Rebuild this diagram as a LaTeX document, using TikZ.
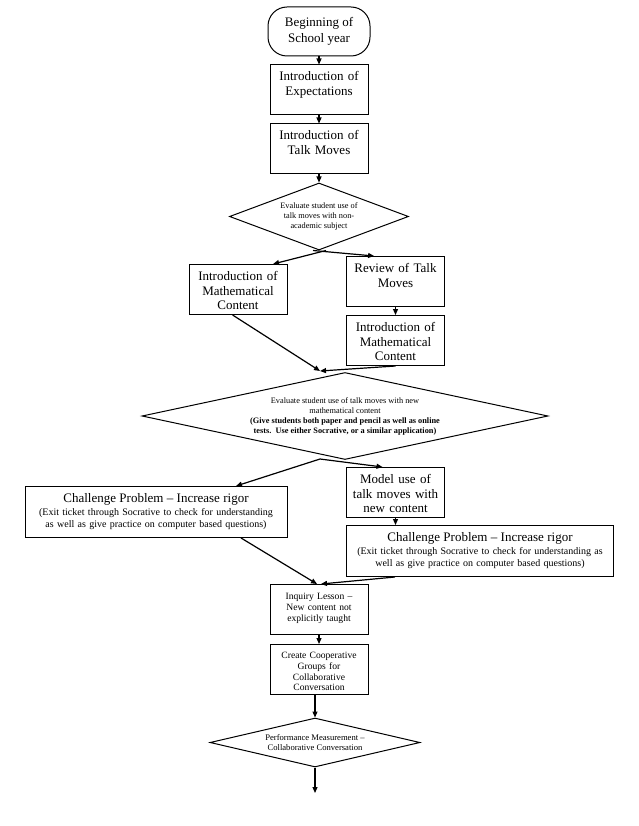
\documentclass[tikz,border=0pt]{standalone}
\usepackage{fontspec}
\setmainfont{Liberation Serif}
\usepackage{tikz}
\usetikzlibrary{positioning,calc,shapes.geometric,arrows.meta}

\tikzset{
  stepbox/.style={draw, line width=1pt, align=center, anchor=north,
    inner xsep=3pt, inner ysep=5pt, text width=92pt,
    text height=11pt, text depth=29pt, font=\fontsize{13}{14.7}\selectfont},
  smallbox/.style={stepbox, font=\fontsize{9.6}{10.8}\selectfont,
    text height=9pt, text depth=31pt},
  widebox/.style={stepbox, text width=#1, font=\fontsize{10}{11.5}\selectfont,
    text depth=30pt},
  decision/.style={diamond, draw, line width=1pt, align=center, inner sep=0pt,
    font=\fontsize{8.3}{10}\selectfont},
  flow/.style={-{Triangle[length=6pt,width=5pt]}, line width=1.2pt},
}

\begin{document}
\begin{tikzpicture}[x=1pt, y=-1pt]
    \useasboundingbox (0,0) rectangle (638,826);

    % top of the chart
    \node[draw, line width=1pt, rounded corners=19pt, align=center,
      minimum width=102pt, minimum height=49pt,
      font=\fontsize{13}{15.5}\selectfont] (start) at (319,31.5)
      {Beginning of\\School year};
    \node[stepbox, below=8pt of start] (expect) {Introduction of\\Expectations};
    \node[stepbox, below=8pt of expect] (talk) {Introduction of\\Talk Moves};
    \node[decision, below=8pt of talk, minimum width=179pt, minimum height=67pt,
      shape aspect=2.67] (eval1)
      {Evaluate student use of\\talk moves with non-\\academic subject};

    % two branches
    \node[stepbox] (mathL) at (238,264) {Introduction of\\Mathematical\\Content};
    \node[stepbox] (review) at (395.5,256) {Review of Talk\\Moves};
    \node[stepbox, below=8pt of review] (mathR) {Introduction of\\Mathematical\\Content};

    \node[decision, minimum width=406pt, minimum height=87pt, shape aspect=4.67]
      (eval2) at (345,416)
      {Evaluate student use of talk moves with new\\mathematical content\\
       \textbf{(Give students both paper and pencil as well as online}\\
       \textbf{tests.\ \ Use either Socrative, or a similar application)}};
    \coordinate (join2) at (320,371);
    \coordinate (split2) at (320,459);

    \node[widebox=256pt] (chalL) at (156,486)
      {{\fontsize{13}{15}\selectfont Challenge Problem -- Increase rigor}\\[1.5pt]
       (Exit ticket through Socrative to check for understanding\\
       as well as give practice on computer based questions)};
    \node[stepbox] (model) at (395.5,467) {Model use of\\talk moves with\\new content};
    \node[widebox=261pt, anchor=north west] (chalR) at ([yshift=-7pt]model.south west)
      {{\fontsize{13}{15}\selectfont Challenge Problem -- Increase rigor}\\[1.5pt]
       (Exit ticket through Socrative to check for understanding as\\
       well as give practice on computer based questions)};

    % bottom of the chart
    \node[smallbox, text height=10pt, text depth=30pt] (inquiry) at (319,584)
      {Inquiry Lesson --\\New content not\\explicitly taught};
    \node[smallbox, below=9pt of inquiry] (groups)
      {Create Cooperative\\Groups for\\Collaborative\\Conversation};
    \node[decision, minimum width=210pt, minimum height=49pt, shape aspect=4.29,
      font=\fontsize{8.6}{9.6}\selectfont] (perf) at (315,742.5)
      {Performance Measurement --\\Collaborative Conversation};
    \coordinate (finish) at (315,793);

    \draw[flow] (start) -- (expect);
    \draw[flow] (expect) -- (talk);
    \draw[flow] (talk) -- (eval1);
    \draw[flow] ([xshift=7pt]eval1.south) -- (mathL.36);
    \draw[flow] ([xshift=-6pt]eval1.south) -- (review.130);
    \draw[flow] (review) -- (mathR);
    \draw[flow] (mathL.258) -- (join2);
    \draw[flow] (mathR.south) -- (join2);
    \draw[flow] (split2) -- (chalL.18);
    \draw[flow] (split2) -- (model.117);
    \draw[flow] (model.south) -- (model.south |- chalR.north);
    \draw[flow] (chalL.343) -- ([xshift=-2pt]inquiry.north);
    \draw[flow] (chalR.197) -- ([xshift=2pt]inquiry.north);
    \draw[flow] (inquiry) -- (groups);
    \draw[flow] (groups.south -| perf.north) -- (perf.north);
    \draw[flow] (perf.south) -- (finish);
\end{tikzpicture}
\end{document}
